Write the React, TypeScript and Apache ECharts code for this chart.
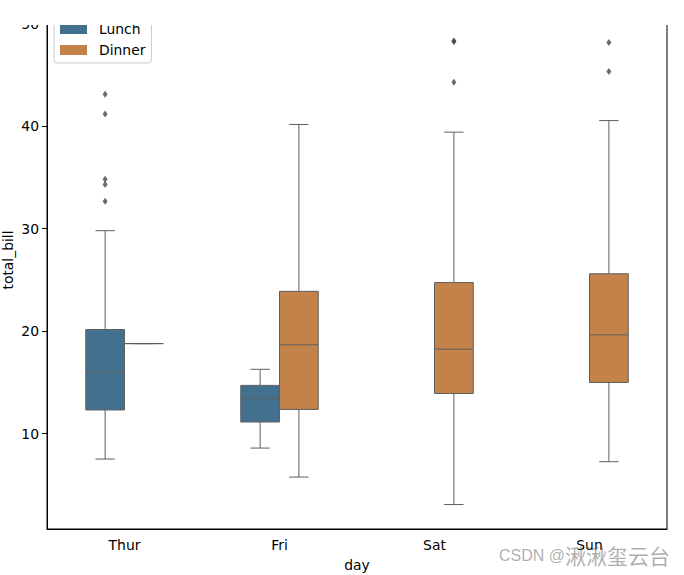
import React, { useEffect, useRef } from "react";
import * as echarts from "echarts";

const days = ["Thur", "Fri", "Sat", "Sun"];
const hues = ["Lunch", "Dinner"];
const yTicks = [10, 20, 30, 40, 50];

// [lowWhisker, q1, median, q3, highWhisker] per day (null = no data)
const lunchStats: (number[] | null)[] = [
  [7.51, 12.3, 15.98, 20.155, 29.8],
  [8.58, 11.125, 13.42, 14.7, 16.27],
  null,
  null,
];
const dinnerStats: (number[] | null)[] = [
  [18.78, 18.78, 18.78, 18.78, 18.78],
  [5.75, 12.3525, 18.665, 23.8825, 40.17],
  [3.07, 13.905, 18.24, 24.74, 39.42],
  [7.25, 14.9875, 19.63, 25.5975, 40.55],
];
const lunchOutliers: number[][] = [[32.68, 34.3, 34.83, 41.19, 43.11], [], [], []];
const dinnerOutliers: number[][] = [[], [], [44.3, 48.27, 48.33, 50.81], [45.35, 48.17]];

const LUNCH = "#44708f";
const DINNER = "#c3824a";
const LINE = "#5f5f5f";
const FLIER = "#454545";
const FONT = "DejaVu Sans";
const BOX_W = 0.25;
const CAP_W = 0.125;
const OFFSETS = [-0.125, 0.125];

const boxData = (stats: (number[] | null)[], off: number) =>
  stats
    .map((s, i) => (s ? [i + off, ...s] : null))
    .filter((d) => d !== null) as number[][];

const flierData = (fl: number[][], off: number) => {
  const out: number[][] = [];
  fl.forEach((vals, i) => vals.forEach((v) => out.push([i + off, v])));
  return out;
};

const renderBox = (color: string) => (params: any, api: any) => {
  const x = api.value(0);
  const lo = api.value(1);
  const q1 = api.value(2);
  const med = api.value(3);
  const q3 = api.value(4);
  const hi = api.value(5);
  const c = (xx: number, yy: number) => api.coord([xx, yy]);
  const line = (a: number[], b: number[]) => ({
    type: "line",
    shape: { x1: a[0], y1: a[1], x2: b[0], y2: b[1] },
    style: { stroke: LINE, lineWidth: 1 },
  });
  const tl = c(x - BOX_W / 2, q3);
  const br = c(x + BOX_W / 2, q1);
  return {
    type: "group",
    children: [
      line(c(x, lo), c(x, q1)),
      line(c(x, q3), c(x, hi)),
      line(c(x - CAP_W / 2, lo), c(x + CAP_W / 2, lo)),
      line(c(x - CAP_W / 2, hi), c(x + CAP_W / 2, hi)),
      {
        type: "rect",
        shape: { x: tl[0], y: tl[1], width: br[0] - tl[0], height: br[1] - tl[1] },
        style: { fill: color, stroke: LINE, lineWidth: 1 },
      },
      line(c(x - BOX_W / 2, med), c(x + BOX_W / 2, med)),
    ],
  };
};

export default function App() {
  const ref = useRef<HTMLDivElement>(null);
  useEffect(() => {
    if (!ref.current) return;
    const chart = echarts.init(ref.current, undefined, { renderer: "svg" });
    const axisText = { color: "#000", fontSize: 13.9, fontFamily: FONT };
    chart.setOption({
      animation: false,
      backgroundColor: "#fff",
      grid: {
        left: 47,
        right: 17,
        top: -9,
        bottom: 46,
        containLabel: false,
        outerBoundsMode: "none",
        show: true,
        borderColor: "#000",
        borderWidth: 1,
        backgroundColor: "transparent",
      },
      legend: {
        orient: "vertical",
        left: 54,
        top: 16,
        itemWidth: 27,
        itemHeight: 10,
        itemGap: 7,
        padding: [6, 6, 6, 6],
        borderColor: "#cccccc",
        borderWidth: 1,
        borderRadius: 3,
        backgroundColor: "rgba(255,255,255,0.8)",
        textStyle: { ...axisText, padding: [0, 0, 0, 7] },
        data: [
          { name: hues[0], icon: "rect", itemStyle: { color: LUNCH } },
          { name: hues[1], icon: "rect", itemStyle: { color: DINNER } },
        ],
      },
      xAxis: [
        {
          type: "category",
          data: days,
          boundaryGap: true,
          axisLine: { onZero: false, lineStyle: { color: "#000", width: 1 } },
          axisTick: { alignWithLabel: true, length: 5, lineStyle: { color: "#000" } },
          axisLabel: { ...axisText, margin: 9 },
          splitLine: { show: false },
          name: "day",
          nameLocation: "middle",
          nameGap: 29,
          nameMoveOverlap: false,
          nameTextStyle: axisText,
        },
        {
          type: "value",
          min: -0.5,
          max: 3.5,
          show: false,
          splitLine: { show: false },
        },
      ],
      yAxis: {
        type: "value",
        min: 0.68,
        max: 53.2,
        axisLine: { show: true, onZero: false, lineStyle: { color: "#000", width: 1 } },
        axisTick: { show: true, length: 5, customValues: yTicks, lineStyle: { color: "#000" } },
        axisLabel: { ...axisText, margin: 8, customValues: yTicks },
        splitLine: { show: false },
        name: "total_bill",
        nameLocation: "middle",
        nameGap: 32,
        nameRotate: 90,
        nameMoveOverlap: false,
        nameTextStyle: axisText,
      },
      series: [
        {
          name: hues[0],
          type: "custom",
          xAxisIndex: 1,
          yAxisIndex: 0,
          itemStyle: { color: LUNCH },
          renderItem: renderBox(LUNCH),
          data: boxData(lunchStats, OFFSETS[0]),
          z: 2,
        },
        {
          name: hues[1],
          type: "custom",
          xAxisIndex: 1,
          yAxisIndex: 0,
          itemStyle: { color: DINNER },
          renderItem: renderBox(DINNER),
          data: boxData(dinnerStats, OFFSETS[1]),
          z: 2,
        },
        {
          name: "Lunch outliers",
          type: "scatter",
          xAxisIndex: 1,
          yAxisIndex: 0,
          symbol: "diamond",
          symbolSize: [5, 7],
          itemStyle: { color: FLIER },
          data: flierData(lunchOutliers, OFFSETS[0]),
          z: 3,
        },
        {
          name: "Dinner outliers",
          type: "scatter",
          xAxisIndex: 1,
          yAxisIndex: 0,
          symbol: "diamond",
          symbolSize: [5, 7],
          itemStyle: { color: FLIER },
          data: flierData(dinnerOutliers, OFFSETS[1]),
          z: 3,
        },
      ],
      graphic: [
        {
          type: "rect",
          z: 100,
          shape: { x: 0, y: 0, width: 684, height: 25 },
          style: { fill: "#ffffff" },
        },
        {
          type: "text",
          z: 101,
          x: 670,
          y: 555,
          style: {
            text: "{a|CSDN @}{b|湫湫玺云台}",
            align: "right",
            verticalAlign: "middle",
            fill: "rgba(120,120,120,0.6)",
            rich: {
              a: { fontSize: 16, fontFamily: "Liberation Sans", fill: "rgba(120,120,120,0.6)" },
              b: { fontSize: 21, fontFamily: "Noto Sans CJK SC", fill: "rgba(120,120,120,0.6)" },
            },
          },
        },
      ],
    });
    return () => chart.dispose();
  }, []);
  return (
    <div
      ref={ref}
      style={{ position: "fixed", left: 0, top: 0, width: 684, height: 575 }}
    />
  );
}
